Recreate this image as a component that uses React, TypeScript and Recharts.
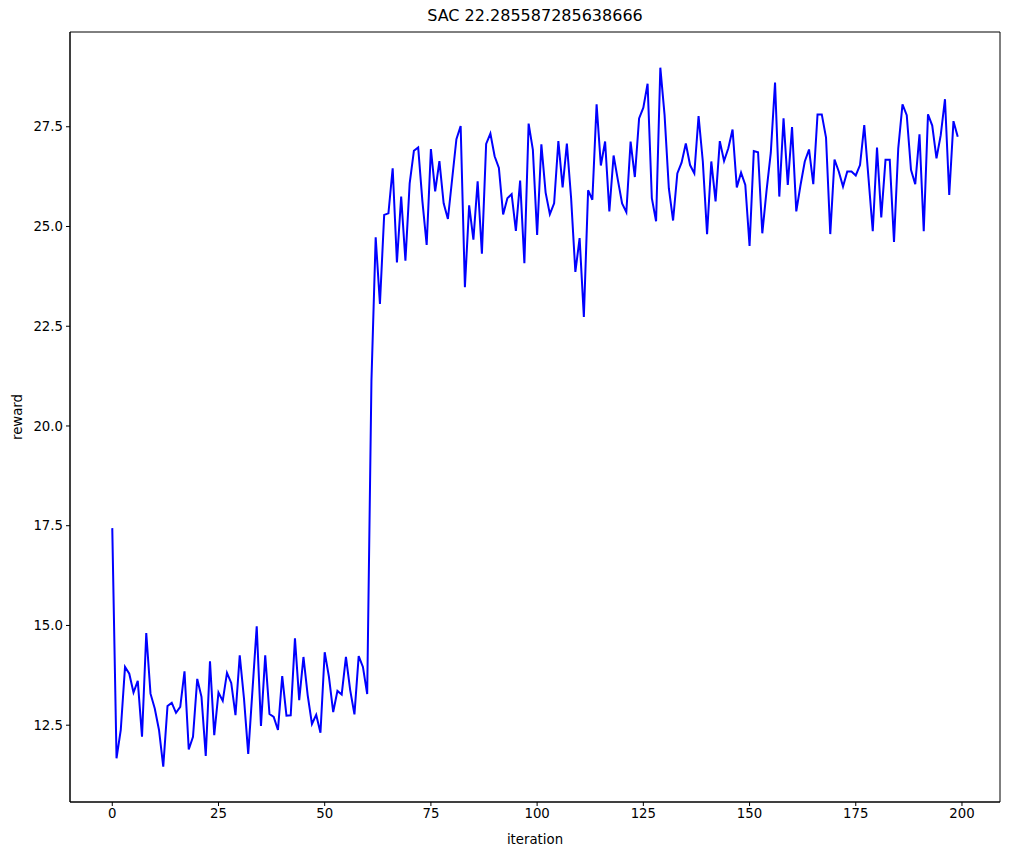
import React from 'react'
import { LineChart, Line, XAxis, YAxis, ReferenceArea, Label } from 'recharts';

// reward per iteration
const rewards = [
  17.44, 11.67, 12.38, 13.96, 13.79, 13.32, 13.61, 12.21, 14.81, 13.29,
  12.92, 12.38, 11.46, 12.98, 13.06, 12.81, 12.96, 13.85, 11.89, 12.21,
  13.66, 13.21, 11.73, 14.1, 12.25, 13.32, 13.11, 13.81, 13.56, 12.75,
  14.25, 13.17, 11.78, 13.38, 14.98, 12.48, 14.25, 12.78, 12.71, 12.38,
  13.73, 12.74, 12.75, 14.68, 13.13, 14.21, 13.25, 12.53, 12.76, 12.31,
  14.33, 13.71, 12.83, 13.36, 13.27, 14.21, 13.38, 12.77, 14.23, 13.96,
  13.28, 21.12, 24.73, 23.06, 25.29, 25.33, 26.46, 24.1, 25.75, 24.14,
  26.08, 26.9, 26.98, 25.63, 24.54, 26.94, 25.88, 26.64, 25.58, 25.19,
  26.19, 27.19, 27.52, 23.48, 25.53, 24.67, 26.13, 24.32, 27.07, 27.33,
  26.76, 26.47, 25.3, 25.71, 25.81, 24.89, 26.15, 24.08, 27.58, 26.92,
  24.79, 27.06, 25.85, 25.31, 25.58, 27.14, 25.98, 27.08, 25.71, 23.86,
  24.71, 22.73, 25.91, 25.67, 28.06, 26.53, 27.13, 25.38, 26.78, 26.17,
  25.58, 25.36, 27.13, 26.24, 27.71, 27.98, 28.58, 25.71, 25.13, 28.98,
  27.79, 25.96, 25.15, 26.33, 26.6, 27.08, 26.54, 26.33, 27.77, 26.63,
  24.81, 26.63, 25.63, 27.14, 26.64, 26.96, 27.43, 25.98, 26.35, 26.04,
  24.51, 26.89, 26.86, 24.83, 25.9, 26.85, 28.61, 25.75, 27.71, 26.04,
  27.49, 25.38, 26.04, 26.63, 26.93, 26.06, 27.81, 27.81, 27.23, 24.81,
  26.68, 26.38, 26.0, 26.38, 26.38, 26.28, 26.54, 27.54, 26.21, 24.88,
  26.98, 25.23, 26.67, 26.67, 24.61, 26.96, 28.06, 27.79, 26.42, 26.06,
  27.31, 24.88, 27.81, 27.53, 26.71, 27.29, 28.19, 25.79, 27.64, 27.25
];

const xTicks = [0, 25, 50, 75, 100, 125, 150, 175, 200];
const yTicks = [12.5, 15.0, 17.5, 20.0, 22.5, 25.0, 27.5];
const xDomain = [-9.95, 208.95];
const yDomain = [10.575, 29.875];

const title = 'SAC 22.285587285638666';

const font = '"DejaVu Sans", sans-serif';

function App() {
  const data = rewards.map((r, i) => ({ iteration: i, reward: r }));
  const tickStyle = { fill: '#000', fontSize: 13.3, fontFamily: font };

  return (
    <div style={{ position: 'absolute', left: 0, top: 0, width: 1010, height: 855, background: '#fff', fontFamily: font }}>
      <div style={{ position: 'absolute', left: 70, top: 6, width: 930, textAlign: 'center', fontSize: 16, color: '#000' }}>
        {title}
      </div>
      <LineChart width={1010} height={855} data={data} margin={{ top: 32, right: 10, bottom: 0, left: 0 }}>
        <XAxis
          dataKey="iteration"
          type="number"
          domain={xDomain}
          ticks={xTicks}
          allowDataOverflow
          height={53}
          tickSize={4}
          tickMargin={3}
          stroke="#000"
          tick={tickStyle}
        >
          <Label value="iteration" position="insideBottom" offset={11} style={{ fill: '#000', fontSize: 13.3, fontFamily: font }} />
        </XAxis>
        <YAxis
          type="number"
          domain={yDomain}
          ticks={yTicks}
          allowDataOverflow
          width={70}
          tickSize={4}
          tickMargin={3}
          stroke="#000"
          tick={tickStyle}
          tickFormatter={(v: number) => v.toFixed(1)}
        >
          <Label
            content={() => (
              <text x={17} y={417} transform="rotate(-90 17 417)" textAnchor="middle" dominantBaseline="central"
                style={{ fill: '#000', fontSize: 13.3, fontFamily: font }}>
                reward
              </text>
            )}
          />
        </YAxis>
        <ReferenceArea x1={xDomain[0]} x2={xDomain[1]} y1={yDomain[0]} y2={yDomain[1]} fill="none" stroke="#000" strokeWidth={1} ifOverflow="visible" />
        <Line type="linear" dataKey="reward" stroke="#0000ff" strokeWidth={2} dot={false} isAnimationActive={false} />
      </LineChart>
    </div>
  )
}

export default App
